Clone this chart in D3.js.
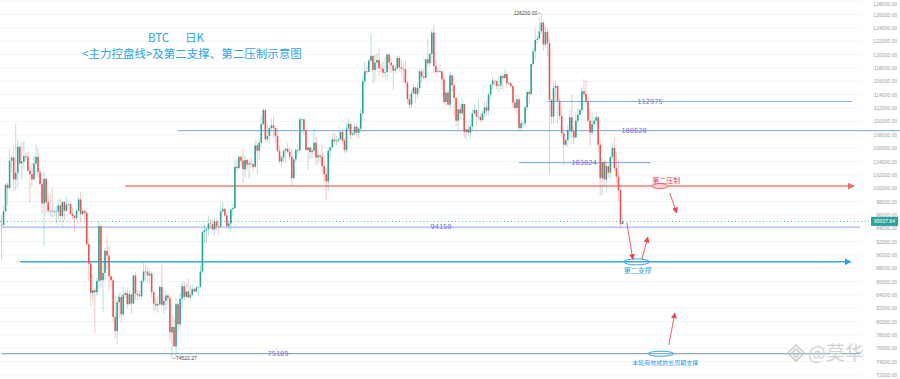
<!DOCTYPE html>
<html><head><meta charset="utf-8">
<script src="https://cdn.jsdelivr.net/npm/d3@7"></script>
<style>body{margin:0;background:#fff}svg{display:block}</style>
</head><body>
<svg id="c" width="900" height="379"></svg>
<script>
// BTC daily candles, 2025-01-13 .. 2025-11-15 (values in thousands USDT)
const opens = [94.5,94.5,96.5,100.5,100.0,104.1,104.6,101.3,102.3,106.2,103.7,104.0,104.8,104.7,102.6,102.1,101.3,103.7,104.7,
102.4,100.6,97.7,101.4,97.9,96.6,96.6,96.5,96.5,96.5,97.4,95.8,97.9,96.6,97.5,97.6,96.1,95.8,95.5,96.6,98.3,96.1,96.6,96.3,91.6,88.7,84.3,84.7,
84.4,86.1,94.3,86.2,87.3,90.6,89.9,86.8,86.2,80.7,78.6,82.9,83.7,81.1,84.0,84.3,82.6,84.1,82.7,86.9,84.2,84.0,83.8,86.1,87.5,87.5,86.9,87.2,84.4,82.7,82.4,
82.6,85.2,82.5,83.1,83.9,83.5,78.4,79.2,76.3,82.6,79.6,83.4,85.3,83.7,84.5,83.6,84.0,84.9,84.5,85.1,85.2,87.5,93.4,93.7,93.9,94.7,94.6,93.8,95.0,94.3,
94.2,96.5,96.9,95.9,94.3,94.7,96.8,97.0,103.2,103.0,104.7,104.1,102.8,104.2,103.5,103.7,103.6,103.2,106.4,105.6,106.8,109.6,111.7,107.3,107.8,109.0,109.4,109.0,107.8,105.6,104.0,
104.6,105.6,105.9,105.4,104.7,101.5,104.3,105.7,105.7,110.3,110.3,108.7,105.7,106.1,105.4,105.6,106.8,104.6,104.9,104.7,103.3,102.1,101.0,105.6,106.1,107.3,107.0,107.1,107.3,108.4,
107.1,105.7,108.9,109.6,108.0,108.2,109.2,108.3,108.9,111.2,116.0,117.5,117.4,119.1,119.8,117.7,118.8,119.2,118.0,117.9,117.3,117.4,120.0,118.8,118.4,117.6,117.9,119.5,118.1,117.9,117.8,
115.8,113.3,112.5,114.2,115.1,114.1,115.0,117.5,116.7,116.5,119.3,118.7,120.1,123.3,118.3,117.4,117.5,117.5,116.3,112.9,114.3,112.5,116.9,115.4,113.5,110.1,111.8,111.2,112.6,108.4,108.8,
108.3,109.2,111.2,111.7,110.7,110.7,110.2,111.2,112.1,111.6,114.0,115.5,116.1,116.0,115.3,115.4,116.8,116.5,117.1,115.7,115.7,115.3,112.8,112.0,113.3,109.0,109.7,109.7,112.1,114.4,
114.1,118.6,120.5,122.2,122.4,123.5,124.8,121.5,123.4,121.7,113.2,110.7,115.0,115.3,113.1,110.8,108.2,106.5,107.2,108.7,110.6,108.5,107.6,110.1,111.0,111.7,114.5,114.1,112.9,110.1,108.3,
109.6,110.1,110.6,106.5,101.5,103.9,101.3,103.3,102.3,104.7,106.0,103.0,101.7,99.7,94.6];
const highs = [95.9,97.4,100.7,100.9,105.9,104.9,106.3,109.6,107.2,106.4,106.9,107.1,105.3,105.5,103.2,103.8,104.8,106.5,106.0,
102.8,101.5,102.5,101.7,99.0,99.2,100.1,96.9,97.3,98.3,98.5,98.1,98.1,98.8,97.9,97.7,97.0,96.0,96.9,98.7,99.5,96.9,96.7,96.5,92.5,89.3,87.1,85.1,
86.6,95.0,94.4,88.9,91.0,92.8,91.3,86.9,86.5,83.9,83.6,84.4,84.3,85.3,84.7,85.1,84.8,84.1,87.0,87.4,84.8,84.6,86.2,88.8,88.5,88.3,87.8,87.5,84.6,83.5,83.9,
85.5,88.5,83.9,84.7,84.2,83.8,81.2,80.8,83.6,82.7,84.3,85.9,86.1,85.8,86.5,85.5,85.5,85.1,85.6,85.3,88.5,93.8,94.7,94.0,95.8,95.3,95.4,95.6,95.5,95.2,
97.4,97.9,96.9,96.3,95.2,96.9,97.7,104.1,104.4,104.9,104.9,105.8,104.9,104.4,104.2,104.6,103.7,107.1,107.1,107.3,110.8,112.0,111.8,109.5,109.3,110.4,110.7,109.3,108.9,106.3,104.9,
105.9,105.9,106.8,106.0,105.9,105.0,105.9,106.5,110.6,110.4,110.4,108.8,106.2,106.2,106.1,108.9,107.7,105.6,105.3,106.5,104.0,103.0,106.1,106.3,108.1,108.3,107.8,107.6,108.5,108.8,
107.5,109.8,110.5,109.8,108.4,109.7,109.7,109.2,111.9,116.9,118.9,118.2,119.5,123.2,119.9,120.0,120.1,120.9,118.6,118.9,119.7,120.2,120.2,119.5,118.5,118.3,119.8,119.8,119.3,118.8,118.9,
116.1,114.0,114.8,115.7,115.1,115.8,117.7,117.9,117.9,119.3,122.3,120.3,123.7,124.5,119.2,117.9,118.6,117.6,116.8,114.6,114.8,117.4,117.0,115.6,113.6,112.4,112.6,113.5,112.6,108.9,109.5,
109.9,111.8,112.6,111.8,113.4,111.2,111.6,112.9,113.2,114.3,115.5,116.8,116.4,116.2,116.8,117.0,117.3,117.9,117.5,116.1,115.9,115.4,113.3,114.0,113.5,110.3,109.8,112.4,114.5,114.8,
118.6,121.0,123.9,122.9,125.7,126.2,125.1,124.2,123.8,122.6,113.4,115.8,116.0,115.4,113.6,112.0,109.2,107.5,109.5,111.7,114.0,109.1,111.3,112.0,111.9,115.0,116.4,116.1,113.6,111.6,111.2,
110.6,111.2,110.8,107.3,104.5,104.2,104.0,103.4,104.8,106.7,107.5,105.3,104.1,99.9,96.0];
const lows = [89.3,94.3,96.5,97.4,99.9,102.3,99.6,99.6,100.1,103.3,101.3,102.8,104.1,102.5,97.8,100.3,101.3,103.3,101.5,
100.3,96.2,91.2,96.2,96.2,95.7,95.6,95.7,94.7,95.3,94.9,94.1,95.2,96.5,97.3,96.0,95.2,93.4,95.2,96.4,94.9,95.8,95.3,91.3,86.1,82.3,82.8,78.3,
83.9,85.0,85.1,81.4,86.3,87.8,84.7,85.2,80.0,77.5,76.6,80.6,79.9,80.8,83.6,82.0,82.5,81.1,82.6,83.2,83.2,83.6,83.7,85.6,86.3,85.9,85.8,83.6,81.6,81.6,81.3,
82.4,82.3,81.2,81.7,82.4,77.2,74.5,76.2,74.6,78.5,78.9,82.1,83.0,83.7,83.6,83.1,83.9,84.2,84.4,83.9,85.1,87.1,91.9,91.7,92.9,93.9,93.6,92.9,93.7,92.9,
94.1,96.3,95.8,94.1,93.5,93.4,95.8,96.9,102.3,102.8,103.3,100.7,101.5,102.6,101.4,103.1,102.6,103.1,102.0,104.2,106.1,109.3,106.8,106.9,106.6,108.6,107.5,106.8,105.3,103.6,103.1,
103.9,103.7,105.1,104.2,100.4,101.1,103.9,105.0,105.3,108.3,108.1,105.7,102.7,104.3,104.5,104.9,103.4,103.6,103.9,102.3,100.8,98.2,99.6,104.6,105.9,106.5,106.4,106.8,107.2,106.7,
105.3,105.2,108.6,107.3,107.8,107.8,107.5,107.4,108.4,110.6,115.2,116.9,117.3,118.9,115.7,116.0,117.8,116.8,117.3,116.5,116.5,116.1,117.3,117.3,114.7,117.2,117.8,117.4,116.9,115.8,115.5,
112.7,112.0,112.0,114.1,112.7,113.4,114.3,115.9,116.3,116.5,118.1,118.2,118.9,117.2,116.8,117.2,117.2,114.7,112.7,112.4,112.4,111.7,114.5,110.9,109.3,108.7,110.4,110.9,107.5,107.4,108.1,
107.3,108.7,110.9,109.4,110.2,109.9,110.0,110.6,110.8,110.9,113.4,114.8,115.3,114.8,114.4,114.8,114.7,116.3,115.2,115.4,115.1,112.0,111.6,111.1,108.6,108.6,109.1,109.2,111.6,112.7,
113.9,118.3,119.3,121.6,122.2,123.1,120.6,121.0,119.7,102.0,109.6,109.7,113.0,109.6,110.2,107.4,103.5,106.3,106.1,107.5,107.4,106.7,107.5,109.7,110.9,111.3,113.8,112.2,109.9,106.3,108.0,
109.4,109.5,105.3,98.9,98.9,100.3,99.3,101.5,101.4,104.3,102.5,100.8,98.0,94.0,94.6];
const closes = [94.5,96.5,100.5,100.0,104.1,104.6,101.3,102.3,106.2,103.7,104.0,104.8,104.7,102.6,102.1,101.3,103.7,104.7,102.4,
100.6,97.7,101.4,97.9,96.6,96.6,96.5,96.5,96.5,97.4,95.8,97.9,96.6,97.5,97.6,96.1,95.8,95.5,96.6,98.3,96.1,96.6,96.3,91.6,88.7,84.3,84.7,84.4,
86.1,94.3,86.2,87.3,90.6,89.9,86.8,86.2,80.7,78.6,82.9,83.7,81.1,84.0,84.3,82.6,84.1,82.7,86.9,84.2,84.0,83.8,86.1,87.5,87.5,86.9,87.2,84.4,82.7,82.4,82.6,
85.2,82.5,83.1,83.9,83.5,78.4,79.2,76.3,82.6,79.6,83.4,85.3,83.7,84.5,83.6,84.0,84.9,84.5,85.1,85.2,87.5,93.4,93.7,93.9,94.7,94.6,93.8,95.0,94.3,94.2,
96.5,96.9,95.9,94.3,94.7,96.8,97.0,103.2,103.0,104.7,104.1,102.8,104.2,103.5,103.7,103.6,103.2,106.4,105.6,106.8,109.6,111.7,107.3,107.8,109.0,109.4,109.0,107.8,105.6,104.0,104.6,
105.6,105.9,105.4,104.7,101.5,104.3,105.7,105.7,110.3,110.3,108.7,105.7,106.1,105.4,105.6,106.8,104.6,104.9,104.7,103.3,102.1,101.0,105.6,106.1,107.3,107.0,107.1,107.3,108.4,107.1,
105.7,108.9,109.6,108.0,108.2,109.2,108.3,108.9,111.2,116.0,117.5,117.4,119.1,119.8,117.7,118.8,119.2,118.0,117.9,117.3,117.4,120.0,118.8,118.4,117.6,117.9,119.5,118.1,117.9,117.8,115.8,
113.3,112.5,114.2,115.1,114.1,115.0,117.5,116.7,116.5,119.3,118.7,120.1,123.3,118.3,117.4,117.5,117.5,116.3,112.9,114.3,112.5,116.9,115.4,113.5,110.1,111.8,111.2,112.6,108.4,108.8,108.3,
109.2,111.2,111.7,110.7,110.7,110.2,111.2,112.1,111.6,114.0,115.5,116.1,116.0,115.3,115.4,116.8,116.5,117.1,115.7,115.7,115.3,112.8,112.0,113.3,109.0,109.7,109.7,112.1,114.4,114.1,
118.6,120.5,122.2,122.4,123.5,124.8,121.5,123.4,121.7,113.2,110.7,115.0,115.3,113.1,110.8,108.2,106.5,107.2,108.7,110.6,108.5,107.6,110.1,111.0,111.7,114.5,114.1,112.9,110.1,108.3,109.6,
110.1,110.6,106.5,101.5,103.9,101.3,103.3,102.3,104.7,106.0,103.0,101.7,99.7,94.6,95.0];

const axisTicks = d3.range(72000, 128001, 2000);
const levelValues = [112975, 108620, 103824, 94150, 75189];
const levelLabels = ["112975", "108620", "103824", "94150", "75189"];
const resistanceValue = 100300;
const supportValue = 88950;
const lastPrice = 95007.84;
const highLabel = "126200.00";
const lowLabel = "74522.27";
const titleLine1 = ["BTC", "日K"];
const titleLine2 = "<主力控盘线>及第二支撑、第二压制示意图";
const noteResist = "第二压制";
const noteSupport = "第二支撑";
const noteLong = "本轮有效成的长周期支撑";
const watermark = "@莫华";

const candles = closes.map((c, i) => ({i, o: opens[i]*1000, h: highs[i]*1000, l: lows[i]*1000, c: c*1000}));

const W = 900, H = 379, plotRight = 860;
const svg = d3.select("#c");
const x = d3.scaleLinear().domain([0, 423]).range([1.5, 860]);
const y = d3.scaleLinear().domain([72000, 128000]).range([375, 1.2]);

const up = "#26a69a", down = "#ef5350";

// grid
svg.append("g").selectAll("line").data(axisTicks).join("line")
  .attr("x1", 0).attr("x2", plotRight).attr("y1", d => y(d)).attr("y2", d => y(d))
  .attr("stroke", "#f3f4f7").attr("stroke-width", 1);

// right axis
const ax = svg.append("g").attr("transform", `translate(${897},0)`)
  .call(d3.axisLeft(y).tickValues(axisTicks).tickSize(0).tickFormat(d => d3.format(".2f")(d)));
ax.select(".domain").remove();
ax.selectAll("text").attr("fill", "#a0a0a0").attr("font-size", 5).attr("font-family", "Liberation Sans, Arial, sans-serif").attr("x", 0);
// keep the topmost label inside the picture
ax.selectAll(".tick").filter(d => y(d) < 4).attr("transform", d => `translate(0,${4})`);

// level lines (layout extents in day units)
const levelStyle = [
  {from: 269, to: 419, color: "#7fb0ea", lx: 650},
  {from: 87, to: 443, color: "#8fb3ea", lx: 634},
  {from: 255, to: 320, color: "#8fb3ea", lx: 584},
  {from: 0, to: 423, color: "#a9b8f0", lx: 441},
  {from: 0, to: 423, color: "#8fb0b8", lx: 278},
];
levelValues.forEach((v, k) => {
  const s = levelStyle[k];
  svg.append("line").attr("x1", x(s.from)).attr("x2", Math.min(900, x(s.to)))
    .attr("y1", y(v)).attr("y2", y(v)).attr("stroke", s.color).attr("stroke-width", 1.2);
  svg.append("text").attr("x", s.lx).attr("y", y(v) + 2.3).attr("text-anchor", "middle")
    .attr("font-size", 7).attr("font-family", "DejaVu Sans Mono, monospace").attr("fill", "#7b70d8")
    .text(levelLabels[k]);
});

// current price dotted line
svg.append("line").attr("x1", 0).attr("x2", 871).attr("y1", y(lastPrice)).attr("y2", y(lastPrice))
  .attr("stroke", up).attr("stroke-width", 1).attr("stroke-dasharray", "1,2.5").attr("opacity", 0.8);

// defs arrows
const defs = svg.append("defs");
function marker(id, color, size) {
  defs.append("marker").attr("id", id).attr("viewBox", "0 0 10 10").attr("refX", 9).attr("refY", 5)
    .attr("markerWidth", size).attr("markerHeight", size).attr("orient", "auto-start-reverse")
    .attr("markerUnits", "userSpaceOnUse")
    .append("path").attr("d", "M0,0 L10,5 L0,10 z").attr("fill", color);
}
marker("arRed", "#e8474f", 6);
marker("arBlue", "#2f9ee8", 7);
marker("arRedBig", "#f06a6a", 7);

// resistance line
svg.append("line").attr("x1", x(61)).attr("x2", x(420)).attr("y1", y(resistanceValue)).attr("y2", y(resistanceValue))
  .attr("stroke", "#f07c7c").attr("stroke-width", 1.5).attr("marker-end", "url(#arRedBig)");
// support line
svg.append("line").attr("x1", x(9)).attr("x2", x(418.5)).attr("y1", y(supportValue)).attr("y2", y(supportValue))
  .attr("stroke", "#3aa6ea").attr("stroke-width", 1.5).attr("marker-end", "url(#arBlue)");

// candles
const cg = svg.append("g");
cg.selectAll("line").data(candles).join("line")
  .attr("x1", d => x(d.i)).attr("x2", d => x(d.i))
  .attr("y1", d => y(d.h)).attr("y2", d => y(d.l))
  .attr("stroke", d => d.c >= d.o ? up : down).attr("stroke-width", 0.6).attr("opacity", 0.55);
cg.selectAll("rect").data(candles).join("rect")
  .attr("x", d => x(d.i) - 0.8).attr("width", 1.6)
  .attr("y", d => y(Math.max(d.o, d.c)))
  .attr("height", d => Math.max(0.7, Math.abs(y(d.o) - y(d.c))))
  .attr("fill", d => d.c >= d.o ? up : down);

// high / low labels
const hi = candles.reduce((a, b) => b.h > a.h ? b : a);
const lo = candles.reduce((a, b) => b.l < a.l ? b : a);
svg.append("line").attr("x1", x(hi.i) - 3).attr("x2", x(hi.i) - 1).attr("y1", y(hi.h)).attr("y2", y(hi.h)).attr("stroke", "#555").attr("stroke-width", 0.6);
svg.append("text").attr("x", x(hi.i) - 4).attr("y", y(hi.h) + 1.8).attr("text-anchor", "end")
  .attr("font-size", 5).attr("fill", "#444").attr("font-family", "Liberation Sans, Arial, sans-serif").text(highLabel);
svg.append("line").attr("x1", x(lo.i) + 1).attr("x2", x(lo.i) + 3).attr("y1", y(lo.l)).attr("y2", y(lo.l)).attr("stroke", "#555").attr("stroke-width", 0.6);
svg.append("text").attr("x", x(lo.i) + 4).attr("y", y(lo.l) + 1.8)
  .attr("font-size", 5).attr("fill", "#444").attr("font-family", "Liberation Sans, Arial, sans-serif").text(lowLabel);

// price tag
const pt = svg.append("g");
pt.append("rect").attr("x", 871).attr("y", y(lastPrice) - 4.5).attr("width", 27).attr("height", 9).attr("fill", up);
pt.append("text").attr("x", 884.5).attr("y", y(lastPrice) + 1.8).attr("text-anchor", "middle")
  .attr("font-size", 5).attr("fill", "#fff").attr("font-family", "Liberation Sans, Arial, sans-serif").text(d3.format(".2f")(lastPrice));

// ellipses & notes
function ell(ix, v, rx, ry, stroke, fill) {
  svg.append("ellipse").attr("cx", x(ix)).attr("cy", y(v)).attr("rx", rx).attr("ry", ry)
    .attr("stroke", stroke).attr("stroke-width", 1).attr("fill", fill);
}
ell(324.4, resistanceValue, 8, 2.5, "#f06a6a", "#fbd0d0");
ell(313, supportValue, 13, 3, "#3aa6ea", "none");
ell(324.9, 75189, 13, 2.5, "#3aa6ea", "none");
const cjk = "'Noto Sans CJK SC', 'Noto Sans', sans-serif";
svg.append("text").attr("x", x(327.5)).attr("y", y(resistanceValue) - 3.5).attr("text-anchor", "middle")
  .attr("font-size", 7).attr("fill", "#e8474f").attr("font-family", cjk).text(noteResist);
svg.append("text").attr("x", x(313.5)).attr("y", y(supportValue) + 11).attr("text-anchor", "middle")
  .attr("font-size", 7).attr("fill", "#2f9ee8").attr("font-family", cjk).text(noteSupport);
svg.append("text").attr("x", x(327)).attr("y", y(75189) + 11.5).attr("text-anchor", "middle")
  .attr("font-size", 6).attr("fill", "#2f9ee8").attr("font-family", cjk).text(noteLong);

// red arrows
const arrows = [
  [[329.3, 99270], [332.7, 96270]],
  [[308.1, 94770], [311.1, 89300]],
  [[315.5, 89300], [318.5, 92670]],
  [[328.8, 76494], [331.8, 81288]],
];
arrows.forEach(a => {
  svg.append("line").attr("x1", x(a[0][0])).attr("y1", y(a[0][1])).attr("x2", x(a[1][0])).attr("y2", y(a[1][1]))
    .attr("stroke", "#e8474f").attr("stroke-width", 0.9).attr("marker-end", "url(#arRed)");
});

// titles
svg.append("text").attr("x", 148).attr("y", 42).attr("font-size", 11.5).attr("fill", "#2fa3ec").attr("font-family", cjk).text(titleLine1[0]);
svg.append("text").attr("x", 185).attr("y", 42).attr("font-size", 11.5).attr("fill", "#2fa3ec").attr("font-family", cjk).text(titleLine1[1]);
svg.append("text").attr("x", 82).attr("y", 58).attr("font-size", 11.5).attr("fill", "#2fa3ec").attr("font-family", cjk).text(titleLine2);

// watermark
const wm = svg.append("g").attr("opacity", 0.9);
wm.append("path").attr("transform", "translate(796,353)")
  .attr("d", "M0,-8 L8,0 L0,8 L-8,0 Z M0,-4 L4,0 L0,4 L-4,0 Z").attr("fill", "none").attr("stroke", "#c8c8c8").attr("stroke-width", 1.6);
wm.append("text").attr("x", 808).attr("y", 360).attr("font-size", 19).attr("fill", "#cfcfcf").attr("font-family", cjk).text(watermark);
</script>
</body></html>
